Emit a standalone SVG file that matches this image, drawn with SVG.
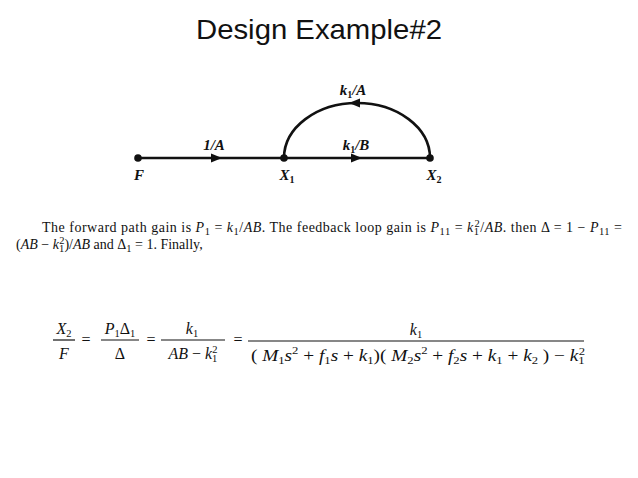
<svg xmlns="http://www.w3.org/2000/svg" width="638" height="478" viewBox="0 0 638 478">
<style>
.title{font-family:"Liberation Sans",Arial,sans-serif;font-size:28px;fill:#111}
.lbl{font-family:"Liberation Serif","Times New Roman",serif;font-size:15px;font-weight:bold;font-style:italic;fill:#111}
.up{font-style:normal}
.sb{font-size:10px}
.para{font-family:"Liberation Serif","Times New Roman",serif;font-size:14px;fill:#111}
.eq{font-family:"Liberation Serif","Times New Roman",serif;font-size:16px;fill:#111}
.it{font-style:italic}
.sm{font-size:10.5px}
.edge{fill:none;stroke:#111;stroke-width:2.6}
.frac{stroke:#111;stroke-width:1.2}
.dot{fill:#111}
</style>
<defs>
<path id="arr" d="M0,0 L-11,-4.5 L-11,4.5 Z" fill="#111"/>
</defs>
<text class="title" x="319" y="39" text-anchor="middle" textLength="246" lengthAdjust="spacingAndGlyphs">Design Example#2</text>

<g id="connectors">
<path class="edge" d="M138,158 L284,158"/>
<path class="edge" d="M284,158 L430,158"/>
<path class="edge" d="M284,158 A73,55 0 0 1 430,158"/>
<use href="#arr" transform="translate(222,158)"/>
<use href="#arr" transform="translate(362,158)"/>
<use href="#arr" transform="translate(349,103) rotate(180)"/>
<text class="lbl" x="214" y="150" text-anchor="middle">1/A</text>
<text class="lbl" x="356" y="150" text-anchor="middle">k<tspan class="sb up" dy="3">1</tspan><tspan dy="-3">/B</tspan></text>
<text class="lbl" x="353" y="95" text-anchor="middle">k<tspan class="sb up" dy="3">1</tspan><tspan dy="-3">/A</tspan></text>
</g>

<g id="node-F">
<circle class="dot" cx="138" cy="158" r="3.8"/>
<text class="lbl" x="139" y="180" text-anchor="middle">F</text>
</g>
<g id="node-X1">
<circle class="dot" cx="284" cy="158" r="3.8"/>
<text class="lbl" x="287" y="180" text-anchor="middle">X<tspan class="sb up" dy="3">1</tspan></text>
</g>
<g id="node-X2">
<circle class="dot" cx="430" cy="158" r="3.8"/>
<text class="lbl" x="434" y="180" text-anchor="middle">X<tspan class="sb up" dy="3">2</tspan></text>
</g>

<g id="paragraph">
<text class="para" x="42" y="232" textLength="580" lengthAdjust="spacing">The forward path gain is  <tspan class="it">P</tspan><tspan class="sm" dy="3">1</tspan><tspan dy="-3"> = </tspan><tspan class="it">k</tspan><tspan class="sm" dy="3">1</tspan><tspan dy="-3">/</tspan><tspan class="it">AB</tspan>. The feedback loop gain is  <tspan class="it">P</tspan><tspan class="sm" dy="3">11</tspan><tspan dy="-3"> = </tspan><tspan class="it">k</tspan><tspan class="sm" dy="3">1</tspan><tspan class="sm" dx="-5" dy="-8">2</tspan><tspan dy="5">/</tspan><tspan class="it">AB</tspan>.  then Δ = 1 − <tspan class="it">P</tspan><tspan class="sm" dy="3">11</tspan><tspan dy="-3"> =</tspan></text>
<text class="para" x="16" y="249">(<tspan class="it">AB</tspan> − <tspan class="it">k</tspan><tspan class="sm" dy="3">1</tspan><tspan class="sm" dx="-5" dy="-8">2</tspan><tspan dy="5">)/</tspan><tspan class="it">AB</tspan> and Δ<tspan class="sm" dy="3">1</tspan><tspan dy="-3"> = 1. Finally,</tspan></text>
</g>

<g id="equation">
<text class="eq it" x="64" y="334" text-anchor="middle">X<tspan class="sm up" dy="3">2</tspan></text>
<line class="frac" x1="53" y1="340" x2="75" y2="340"/>
<text class="eq it" x="64" y="359" text-anchor="middle">F</text>
<text class="eq" x="86" y="345" text-anchor="middle">=</text>

<text class="eq" x="120" y="334" text-anchor="middle"><tspan class="it">P</tspan><tspan class="sm" dy="3">1</tspan><tspan dy="-3">Δ</tspan><tspan class="sm" dy="3">1</tspan></text>
<line class="frac" x1="101" y1="340" x2="139" y2="340"/>
<text class="eq" x="120" y="359" text-anchor="middle">Δ</text>
<text class="eq" x="151" y="345" text-anchor="middle">=</text>

<text class="eq" x="192" y="334" text-anchor="middle"><tspan class="it">k</tspan><tspan class="sm" dy="3">1</tspan></text>
<line class="frac" x1="161" y1="340" x2="225" y2="340"/>
<text class="eq" x="193" y="359" text-anchor="middle"><tspan class="it">AB</tspan> − <tspan class="it">k</tspan><tspan class="sm" dy="3">1</tspan><tspan class="sm" dx="-5" dy="-9">2</tspan></text>
<text class="eq" x="238" y="345" text-anchor="middle">=</text>

<text class="eq" x="416" y="335" text-anchor="middle"><tspan class="it">k</tspan><tspan class="sm" dy="3">1</tspan></text>
<line class="frac" x1="248" y1="341" x2="584" y2="341"/>
<text class="eq" x="251" y="361" textLength="334" lengthAdjust="spacingAndGlyphs">(<tspan class="it"> M</tspan><tspan class="sm" dy="3">1</tspan><tspan class="it" dy="-3">s</tspan><tspan class="sm" dy="-7">2</tspan><tspan dy="7"> + </tspan><tspan class="it">f</tspan><tspan class="sm" dy="3">1</tspan><tspan class="it" dy="-3">s</tspan> + <tspan class="it">k</tspan><tspan class="sm" dy="3">1</tspan><tspan dy="-3">)( </tspan><tspan class="it">M</tspan><tspan class="sm" dy="3">2</tspan><tspan class="it" dy="-3">s</tspan><tspan class="sm" dy="-7">2</tspan><tspan dy="7"> + </tspan><tspan class="it">f</tspan><tspan class="sm" dy="3">2</tspan><tspan class="it" dy="-3">s</tspan> + <tspan class="it">k</tspan><tspan class="sm" dy="3">1</tspan><tspan dy="-3"> + </tspan><tspan class="it">k</tspan><tspan class="sm" dy="3">2</tspan><tspan dy="-3"> ) − </tspan><tspan class="it">k</tspan><tspan class="sm" dy="3">1</tspan><tspan class="sm" dx="-5" dy="-9">2</tspan></text>
</g>
</svg>
